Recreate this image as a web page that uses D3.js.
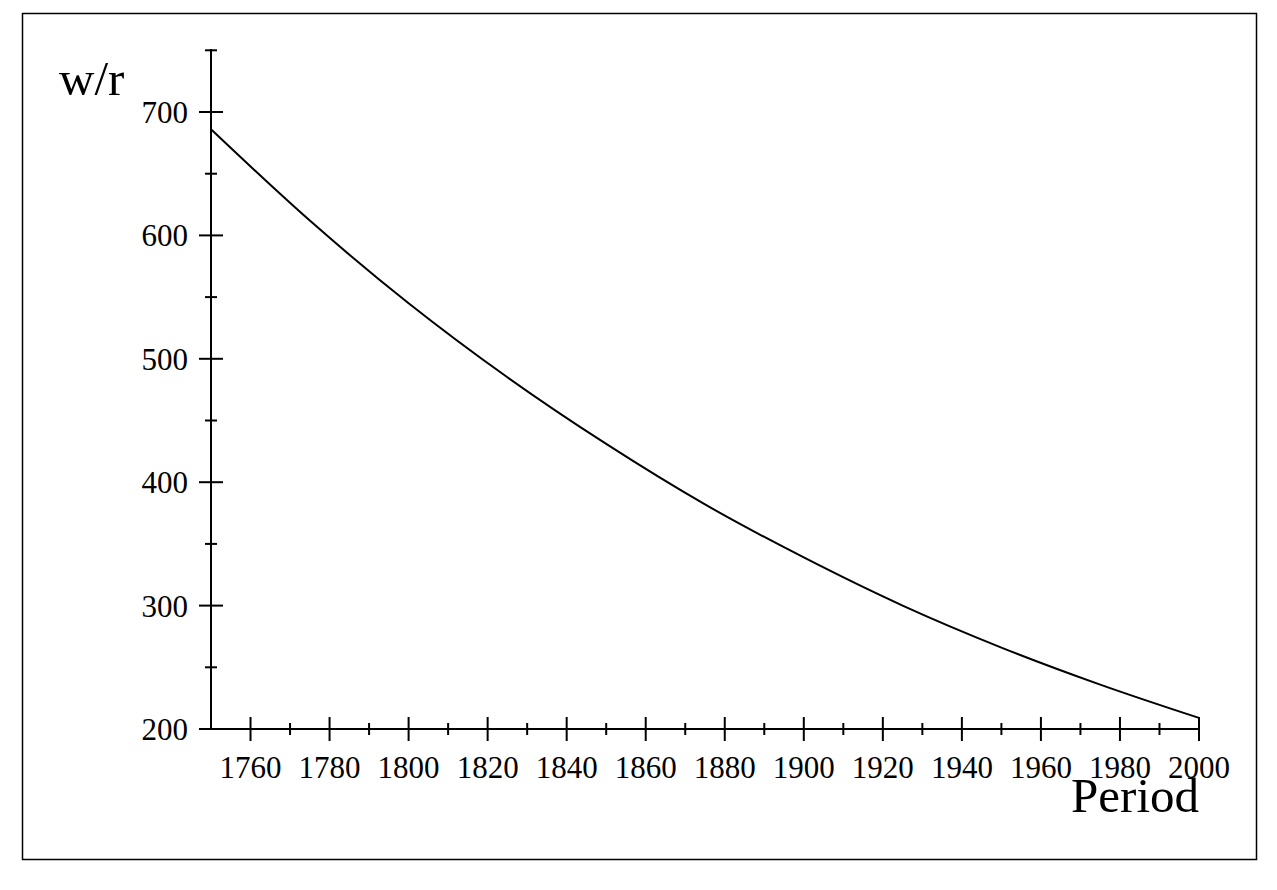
<!DOCTYPE html>
<html><head><meta charset="utf-8">
<script src="https://cdn.jsdelivr.net/npm/d3@7"></script>
<style>body{margin:0;background:#fff}</style></head>
<body><svg id="c" width="1277" height="890"></svg>
<script>
const years = [1750,1775,1800,1825,1850,1875,1900,1925,1950,1975,2000];
const values = [686,612,545,485,431,382,339,300,266,236,209];
const xTicks = [1760,1780,1800,1820,1840,1860,1880,1900,1920,1940,1960,1980,2000];
const yTicks = [200,300,400,500,600,700];

const svg = d3.select("#c");
const font = "'Liberation Serif', 'Times New Roman', serif";
svg.append("rect").attr("x",22.5).attr("y",13.5).attr("width",1234).attr("height",846)
  .attr("fill","none").attr("stroke","#000").attr("stroke-width",1.5);

const x = d3.scaleLinear().domain([1750,2000]).range([211,1199]);
const y = d3.scaleLinear().domain([200,700]).range([729,112]);
const g = svg.append("g").attr("stroke","#000").attr("stroke-width",2);
g.append("line").attr("x1",x(1750)).attr("x2",x(2000)).attr("y1",y(200)).attr("y2",y(200));
g.append("line").attr("x1",x(1750)).attr("x2",x(1750)).attr("y1",y(200)).attr("y2",y(751));
d3.range(1760,2001,10).forEach(v=>{
  const major = v%20===0;
  g.append("line").attr("x1",x(v)).attr("x2",x(v))
   .attr("y1",y(200)-(major?12:6)).attr("y2",y(200)+(major?12:6));
});
d3.range(200,751,50).forEach(v=>{
  const major = v%100===0;
  g.append("line").attr("y1",y(v)).attr("y2",y(v))
   .attr("x1",x(1750)-(major?12:6)).attr("x2",x(1750)+(major?12:6));
});
svg.selectAll(".xl").data(xTicks).enter().append("text")
  .attr("x",d=>x(d)).attr("y",778).attr("text-anchor","middle")
  .attr("font-family",font).attr("font-size",31).text(d=>d);
svg.selectAll(".yl").data(yTicks).enter().append("text")
  .attr("x",188).attr("y",d=>y(d)+11).attr("text-anchor","end")
  .attr("font-family",font).attr("font-size",31).text(d=>d);
svg.append("text").attr("x",59).attr("y",95).attr("font-family",font).attr("font-size",49).text("w/r");
svg.append("text").attr("x",1199).attr("y",812).attr("text-anchor","end").attr("font-family",font).attr("font-size",49).text("Period");

const line = d3.line().x((d,i)=>x(years[i])).y(d=>y(d)).curve(d3.curveCatmullRom);
svg.append("path").attr("d",line(values)).attr("fill","none").attr("stroke","#000").attr("stroke-width",2);
</script></body></html>
